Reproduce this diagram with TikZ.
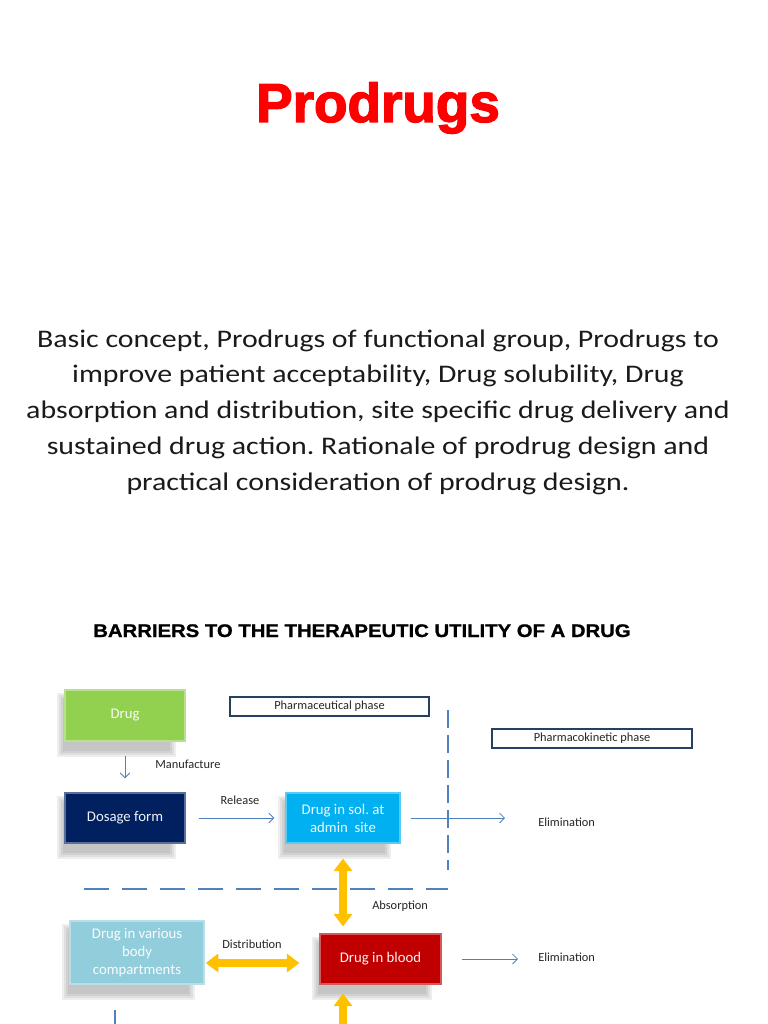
\documentclass[tikz,border=0pt]{standalone}
\usepackage{fontspec}
\setmainfont{Carlito}
\newfontfamily\arialfont{Liberation Sans}
\usetikzlibrary{arrows.meta, backgrounds}
\frenchspacing
\definecolor{pdred}{RGB}{255,0,0}
\definecolor{pdbody}{RGB}{26,26,26}
\definecolor{pdtext}{RGB}{38,38,38}
\definecolor{pdgreen}{RGB}{146,208,80}
\definecolor{pdnavy}{RGB}{0,32,96}
\definecolor{pdcyan}{RGB}{0,176,240}
\definecolor{pdpale}{RGB}{146,205,220}
\definecolor{pdblood}{RGB}{192,0,0}
\definecolor{pdline}{RGB}{79,129,189}
\definecolor{pdframe}{RGB}{37,64,97}
\definecolor{pdyellow}{RGB}{255,192,0}
\tikzset{
    ytip/.tip={Triangle[length=9pt, width=13pt]},
    pdbox/.style={draw=#1!65!white, fill=#1, line width=0.8pt, text=white!94!#1,
        align=center, inner sep=0pt, font=\fontsize{10.5}{12.8}\selectfont},
    phasebox/.style={draw=pdframe, line width=1.1pt, fill=white, inner sep=0pt,
        text=pdtext, font=\fontsize{8.8}{10}\selectfont},
    steplbl/.style={inner sep=0pt, text=pdtext, font=\fontsize{8.8}{10}\selectfont},
    flowarrow/.style={draw=pdline, line width=0.6pt, -{Straight Barb[length=3.5pt, width=7pt]}},
    yarrow/.style={draw=pdyellow, line width=5pt},
}
% soft shadow below a box, shifted down and to the left
\newcommand{\pdshadow}[1]{%
    \foreach \k in {0,1,2,3}{%
        \fill[black!70, opacity=0.09]
            ([shift={(-7+2*\k,15-2*\k)}]#1.south west) rectangle ([shift={(-10-2*\k,4+2*\k)}]#1.north east);
    }%
}

\begin{document}
\begin{tikzpicture}[x=0.025cm, y=-0.025cm]

    % ---------------- page ----------------
    \useasboundingbox (0,0) rectangle (768,1024);

    % ---------------- headings ----------------
    \node[anchor=base, text=pdred,
          font=\arialfont\bfseries\fontsize{39}{44}\selectfont\addfontfeature{FakeBold=2.5}]
        (title) at (378,122) {Prodrugs};
    \node[align=center, text=pdbody,
          font=\fontsize{18}{25.4}\selectfont\addfontfeature{FakeStretch=1.18}] (syllabus) at (378,412)
        {Basic concept, Prodrugs of functional group, Prodrugs to\\
         improve patient acceptability, Drug solubility, Drug\\
         absorption and distribution, site specific drug delivery and\\
         sustained drug action. Rationale of prodrug design and\\
         practical consideration of prodrug design.};
    \node[anchor=base,
          font=\arialfont\bfseries\fontsize{13}{15}\selectfont\addfontfeature{FakeStretch=1.11, FakeBold=1}]
        (barriers) at (362,637) {BARRIERS TO THE THERAPEUTIC UTILITY OF A DRUG};

    % ---------------- boxes ----------------
    \node[pdbox=pdgreen, minimum width=3cm, minimum height=1.275cm] (drug) at (125,715.5) {Drug};
    \node[pdbox=pdnavy, minimum width=3cm, minimum height=1.25cm] (dose) at (125,818) {Dosage form};
    \node[pdbox=pdcyan, minimum width=2.85cm, minimum height=1.25cm] (sol) at (343,818)
        {Drug in sol. at\\admin\ \ site};
    \node[pdbox=pdpale, minimum width=3.35cm, minimum height=1.575cm] (various) at (137,952.5)
        {Drug in various\\body\\compartments};
    \node[pdbox=pdblood, minimum width=3.025cm, minimum height=1.25cm] (blood) at (380.5,959)
        {Drug in blood};

    \begin{scope}[on background layer]
        \fill[white] (0,0) rectangle (768,1024);
        \foreach \b in {drug,dose,sol,various,blood}{\pdshadow{\b}}
    \end{scope}

    % phase labels
    \node[phasebox, minimum width=4.975cm, minimum height=0.475cm] (pharma) at (329.5,706.5)
        {Pharmaceutical phase};
    \node[phasebox, minimum width=5cm, minimum height=0.475cm] (kinetic) at (592,738.5)
        {Pharmacokinetic phase};

    % step labels
    \node[steplbl, anchor=west] (manu) at (155,764) {Manufacture};
    \node[steplbl] (release) at (240,800) {Release};
    \node[steplbl, anchor=west] (elimA) at (538,822) {Elimination};
    \node[steplbl, anchor=west] (absorb) at (372,906) {Absorption};
    \node[steplbl] (distrib) at (252,944) {Distribution};
    \node[steplbl, anchor=west] (elimB) at (538,957) {Elimination};

    % ---------------- phase borders ----------------
    \draw[pdline, line width=1.4pt, dash pattern=on 12.8pt off 5pt] (448,710) -- (448,870);
    \draw[pdline, line width=1.4pt, dash pattern=on 17.8pt off 9.2pt] (84,889) -- (448,889);

    % ---------------- arrows ----------------
    \draw[flowarrow, shorten <=0.35cm, shorten >=0.35cm] (drug) -- (dose);
    \draw[flowarrow, shorten <=0.325cm, shorten >=0.275cm] (dose) -- (sol);
    \draw[flowarrow, shorten <=0.25cm, shorten >=0.825cm] (sol.east) -- (sol.east -| elimA.west);
    \draw[flowarrow, shorten <=0.5cm, shorten >=0.5cm] (blood.east) -- (blood.east -| elimB.west);

    \draw[yarrow, ytip-ytip, shorten <=0.375cm, shorten >=0.175cm] (sol.south) -- (sol.south |- blood.north);
    \draw[yarrow, ytip-ytip, shorten <=0.03cm, shorten >=0.5cm]
        ([yshift=-0.1cm]various.east |- blood.west) -- ([yshift=-0.1cm]blood.west);

    % continues below the page
    \coordinate (below) at (343,1024);
    \coordinate (lowline) at (115,1010);
    \draw[yarrow, -ytip, shorten >=0.225cm] (below) -- (below |- blood.south);
    \draw[pdline, line width=0.8pt] (lowline) -- (lowline |- below);

\end{tikzpicture}
\end{document}
